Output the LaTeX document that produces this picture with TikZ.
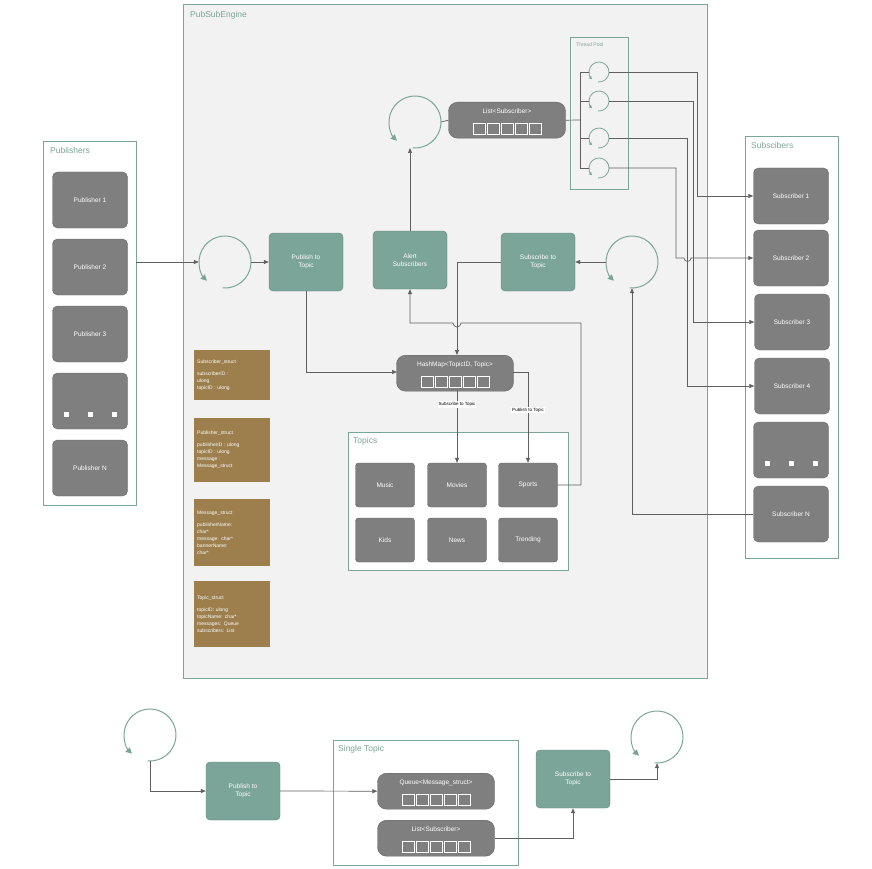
\documentclass[tikz,border=0pt]{standalone}
\usepackage{fontspec}
\setmainfont{Liberation Sans}
\usetikzlibrary{arrows.meta}
\definecolor{teal1}{HTML}{7BA598}
\definecolor{dgray}{HTML}{7F7F7F}
\definecolor{lgray}{HTML}{F2F2F2}
\definecolor{brown1}{HTML}{9C7F4D}
\definecolor{wire}{HTML}{606060}
\tikzset{
  frame/.style={draw=teal1, line width=1pt},
  title/.style={anchor=north west, text=teal1, font=\fontsize{8.5}{9}\selectfont, inner sep=0pt},
  procbox/.style={draw=teal1!80!black, fill=teal1, rounded corners=4pt, text=white, align=center, font=\fontsize{6.5}{8}\selectfont, minimum width=74pt, minimum height=58pt},
  actor/.style={draw=dgray!80!black, fill=dgray, rounded corners=5pt, text=white, align=center, font=\fontsize{6.5}{8}\selectfont, minimum width=75pt, minimum height=56pt},
  topic/.style={draw=dgray!80!black, fill=dgray, rounded corners=3pt, text=white, font=\fontsize{6.5}{8}\selectfont, minimum width=59pt, minimum height=44pt},
  store/.style={draw=dgray!80!black, fill=dgray, rounded corners=9pt, text=white, anchor=north, font=\fontsize{6.5}{8}\selectfont, minimum width=117pt, minimum height=36pt, text depth=18pt, inner sep=2pt},
  struct/.style={fill=brown1, text=white, anchor=north west, align=left, text width=70pt, inner sep=3pt, font=\fontsize{5}{7}\selectfont},
  spin/.style={circle, minimum size=52pt, inner sep=0pt},
  wire/.style={draw=wire, line width=0.7pt},
  flow/.style={wire, -{Triangle[length=5pt,width=4pt]}},
  note/.style={fill=white, inner sep=1pt, font=\fontsize{4.5}{5}\selectfont}
}
% circular arrow around a named node
\newcommand{\spinner}[2]{%
  \draw[teal1, line width=1pt, -{Triangle[length=6pt,width=6pt]}] (#1) ++(95:#2) arc (95:-226:#2);}
% the five cells of a container
\newcommand{\cells}[1]{%
  \foreach \k in {-2,...,2} \draw[white, line width=0.8pt] ([xshift=\k*14pt-6pt, yshift=-21pt]#1.north) rectangle ++(12pt,-11pt);}
\begin{document}
\begin{tikzpicture}[x=1pt, y=-1pt]
\useasboundingbox (0,0) rectangle (872,869);
% engine
\draw[frame, fill=lgray] (183,5) rectangle (707,678);
\node[title] at (190,11) {PubSubEngine};
% publishers
\draw[frame] (43,142) rectangle (136,505);
\node[title] at (50,147) {Publishers};
\node[actor] (P1) at (90,200) {Publisher 1};
\node[actor] (P2) at (90,267) {Publisher 2};
\node[actor] (P3) at (90,334) {Publisher 3};
\node[actor] (P4) at (90,401) {};
\node[actor] (P5) at (90,468) {Publisher N};
% subscribers
\draw[frame] (745,137) rectangle (838,558);
\node[title] at (751,142) {Subscibers};
\node[actor] (S1) at (791,196) {Subscriber 1};
\node[actor] (S2) at (791,258) {Subscriber 2};
\node[actor] (S3) at (792,322) {Subscriber 3};
\node[actor] (S4) at (792,386) {Subscriber 4};
\node[actor] (S5) at (791,450) {};
\node[actor] (SN) at (791,514) {Subscriber N};
\foreach \d in {-24,0,24} {
  \fill[white] ([xshift=\d pt-2.5pt, yshift=-11pt]P4.center) rectangle ++(5pt,-5pt);
  \fill[white] ([xshift=\d pt-2.5pt, yshift=-11pt]S5.center) rectangle ++(5pt,-5pt);}
% engine steps
\node[spin] (L1) at (225,262) {};
\node[spin] (L2) at (415,122) {};
\node[spin] (L3) at (632,262) {};
\spinner{L1}{26}
\spinner{L2}{26}
\spinner{L3}{26}
\node[procbox] (PubT) at (306,262) {Publish to\\Topic};
\node[procbox] (AlertS) at (410,260) {Alert\\Subscribers};
\node[procbox] (SubT) at (538,262) {Subscribe to\\Topic};
\node[store] (List) at (507,102) {List<Subscriber>};
\cells{List}
\node[store] (Map) at (455,355) {HashMap<TopicID, Topic>};
\cells{Map}
% thread pool
\draw[frame] (570,38) rectangle (628,190);
\node[title, font=\fontsize{5}{6}\selectfont] at (576,43) {Thread Pool};
\foreach \n/\y in {1/72,2/101,3/138,4/168} {
  \node[circle, minimum size=20pt, inner sep=0pt] (T\n) at (599,\y) {};
  \draw[teal1, line width=0.8pt, -{Triangle[length=3pt,width=3pt]}] (T\n) ++(95:10) arc (95:-226:10);
  \draw[wire] (580,\y) -- (T\n.west);}
\draw[wire] (580,72) -- (580,168);
\draw[wire] (List.east) -- (580,120);
\draw[wire] (L2.east) -- (List.west);
% topics
\draw[frame, fill=white] (348,432) rectangle (568,570);
\node[title] at (353,437) {Topics};
\node[topic] (Music) at (385,485) {Music};
\node[topic] (Movies) at (457,485) {Movies};
\node[topic] (Sports) at (528,485) {Sports};
\node[topic] (Kids) at (385,540) {Kids};
\node[topic] (News) at (457,540) {News};
\node[topic] (Trend) at (528,540) {Trending};
% structs
\node[struct, minimum height=50pt] (St1) at (194,350) {Subscriber\_struct\\[5pt]subscriberID :\\ulong\\topicID : ulong};
\node[struct, minimum height=64pt] (St2) at (194,418) {Publisher\_struct\\[5pt]publisherID : ulong\\topicID : ulong\\message :\\Message\_struct};
\node[struct, minimum height=67pt] (St3) at (194,499) {Message\_struct\\[5pt]publisherName:\\char*\\message: char*\\bannerName:\\char*};
\node[struct, minimum height=66pt] (St4) at (194,581) {Topic\_struct\\[5pt]topicID: ulong\\topicName: char*\\messages: Queue\\subscribers: List};
% engine wiring
\coordinate (pubout) at (136,262);
\coordinate (mapin) at (397,372);
\coordinate (mapout) at (513,372);
\draw[flow] (pubout) -- (L1.west);
\draw[flow] (L1.east) -- (PubT.west);
\draw[flow] (PubT.south) |- (mapin);
\draw[flow] (AlertS.north) -- (410,148);
\draw[flow] (L3.west) -- (SubT.east);
\draw[flow] (SubT.west) -- (457,262) -- (457,355);
\draw[flow] (Sports.east) -- (581,485) -- (581,323) -- (461,323) arc (0:180:4) -- (410,323) -- (AlertS.south);
\draw[flow] (457,390) -- node[note, pos=0.2] {Subscribe to Topic} (Movies.north);
\draw[flow] (mapout) -- (528,372) -- node[note, pos=0.42] {Publish to Topic} (Sports.north);
\draw[flow] (SN.west) -- (632,514) -- (L3.south);
\draw[flow] (T1.east) -- (697,72) -- (697,196) -- (S1.west);
\draw[flow] (T2.east) -- (693,101) -- (693,322) -- (S3.west);
\draw[flow] (T3.east) -- (687,138) -- (687,386) -- (S4.west);
\draw[flow] (T4.east) -- (676,168) -- (676,258) -- (684,258) arc (180:0:3.5) -- (S2.west);
% single topic
\node[spin] (B1) at (150,735) {};
\node[spin] (B2) at (657,737) {};
\spinner{B1}{26}
\spinner{B2}{26}
\node[procbox] (PubT2) at (243,791) {Publish to\\Topic};
\node[procbox] (SubT2) at (573,779) {Subscribe to\\Topic};
\draw[frame] (333,740) rectangle (518,865);
\node[title] at (338,745) {Single Topic};
\node[store] (Queue) at (436,773) {Queue<Message\_struct>};
\cells{Queue}
\node[store] (List2) at (436,820) {List<Subscriber>};
\cells{List2}
\draw[flow] (B1.south) |- (PubT2.west);
\draw[flow] (PubT2.east) -- (Queue.west);
\draw[flow] (List2.east) -| (SubT2.south);
\draw[flow] (SubT2.east) -| (B2.south);
\end{tikzpicture}
\end{document}
